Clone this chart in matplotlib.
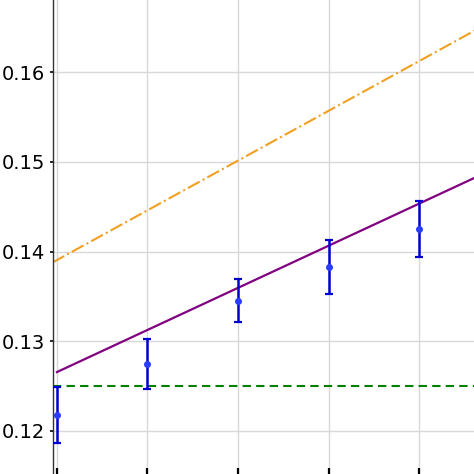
import matplotlib
matplotlib.use("Agg")
import matplotlib.pyplot as plt

# data
x_vals = [1, 2, 3, 4, 5]
y_means = [0.1218, 0.1275, 0.1345, 0.1383, 0.1425]
y_errs = [0.0031, 0.0028, 0.0024, 0.0030, 0.0031]

fit_x = [1, 6]
fit_y = [0.12657, 0.15002]

upper_x = [1, 6]
upper_y = [0.13905, 0.16675]

baseline = 0.125

y_ticks = [0.12, 0.13, 0.14, 0.15, 0.16]
y_tick_labels = ["0.12", "0.13", "0.14", "0.15", "0.16"]

W = H = 474
fig = plt.figure(figsize=(4.74, 4.74), dpi=100)
left = 52.5 / W
bottom = -6 / H
top = 1 + 10 / H
right = 490 / W
ax = fig.add_axes([left, bottom, right - left, top - bottom])

ax.set_xlim(0.9503, 5.7845)
ax.set_ylim(0.11454, 0.16914)

ax.grid(True, color="#d8d8d8", linewidth=1.0)
ax.set_axisbelow(True)

ax.axhline(baseline, color="green", linestyle="--", linewidth=1.5, dashes=(4, 2.5))
ax.axline((upper_x[0], upper_y[0]), (upper_x[1], upper_y[1]),
          color="#f0a020", linestyle="-.", linewidth=1.5)
ax.plot(fit_x, fit_y, color="purple", linewidth=1.6)
ax.errorbar(x_vals, y_means, yerr=y_errs, fmt="o", color="mediumblue",
            markerfacecolor="#2a3cff", markeredgecolor="#2a3cff", markersize=4,
            elinewidth=1.8, capsize=3, capthick=1.6, zorder=5)

ax.set_xticks(x_vals)
ax.set_xticklabels([])
ax.set_yticks(y_ticks)
ax.set_yticklabels(y_tick_labels)

ax.tick_params(axis="y", direction="out", length=2.5, width=1.2, pad=3,
               labelsize=14, colors="black")
ax.tick_params(axis="x", direction="in", length=9, width=1.6, colors="black")

for s in ["top", "right", "bottom"]:
    ax.spines[s].set_visible(False)
ax.spines["left"].set_color("#333333")
ax.spines["left"].set_linewidth(1.0)

fig.savefig("out.png", dpi=100)
